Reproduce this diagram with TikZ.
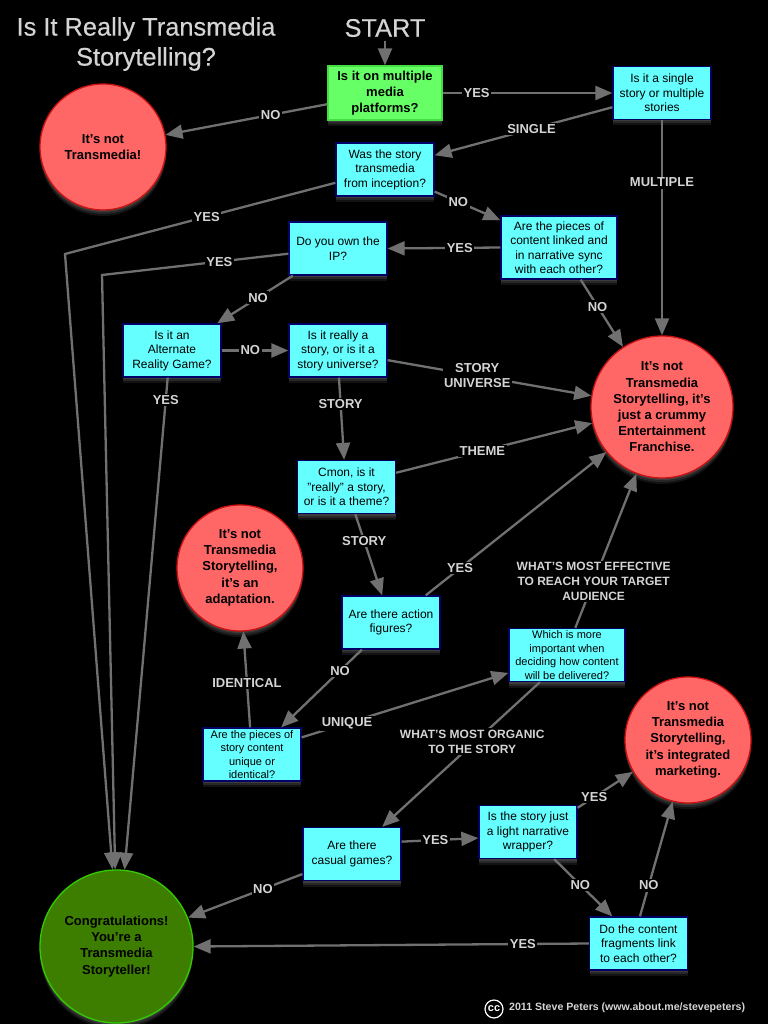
\documentclass[tikz,border=0pt]{standalone}
\usepackage{fontspec}
\setmainfont{Liberation Sans}
\newfontfamily\titlefont[FakeBold=0.4]{Liberation Sans}
\usetikzlibrary{arrows.meta,shadows}
\definecolor{qcyan}{HTML}{66FFFF}
\definecolor{qnavy}{HTML}{000066}
\definecolor{startgreen}{HTML}{66FF66}
\definecolor{startedge}{HTML}{44DD44}
\definecolor{stopred}{HTML}{FF6666}
\definecolor{stopedge}{HTML}{CC1111}
\definecolor{winfill}{HTML}{3D7D00}
\definecolor{winedge}{HTML}{33CC00}
\definecolor{flowgray}{HTML}{707070}
\definecolor{lblgray}{HTML}{D4D4D4}
\tikzset{
  glow/.style={
    drop shadow={fill=white,opacity=.07,shadow xshift=0pt,shadow yshift=-6pt},
    drop shadow={fill=white,opacity=.09,shadow xshift=0pt,shadow yshift=-4pt},
    drop shadow={fill=white,opacity=.10,shadow xshift=0pt,shadow yshift=-2pt}},
  question/.style={draw=qnavy,fill=qcyan,line width=1.3pt,glow,align=center,inner sep=0pt,
    minimum width=98pt,minimum height=53pt,font=\fontsize{12}{14.5}\selectfont},
  wide/.style={minimum width=116pt},
  tiny/.style={font=\fontsize{11}{13.4}\selectfont},
  stopnode/.style={circle,draw=stopedge,fill=stopred,line width=1.3pt,glow,align=center,inner sep=0pt,
    minimum size=126pt,font=\fontsize{13}{16.2}\selectfont\bfseries},
  lbl/.style={fill=black,text=lblgray,align=center,inner sep=1.5pt,font=\fontsize{13}{15}\selectfont\bfseries},
  smalllbl/.style={font=\fontsize{12}{15}\selectfont\bfseries},
  flow/.style={draw=flowgray,line width=2.3pt,-{Stealth[length=17pt,width=14pt,inset=0pt]}}
}
\begin{document}
\begin{tikzpicture}[x=1pt,y=-1pt]
  \fill[black] (0,0) rectangle (768,1024);

  % titles
  \begin{scope}[every node/.style={text=lblgray,align=center,font=\fontsize{25.4}{30}\selectfont\titlefont}]
    \node (title) at (146,44) {Is It Really Transmedia\\Storytelling?};
    \node (start) at (385,28) {START};
  \end{scope}

  % questions
  \node [question,draw=startedge,fill=startgreen,minimum width=114pt,minimum height=54pt,
    font=\fontsize{13}{16}\selectfont\bfseries] (media) at (385,93) {Is it on multiple\\media\\platforms?};
  \node [question] (single) at (662,93) {Is it a single\\story or multiple\\stories};
  \node [question] (inception) at (385,169.5) {Was the story\\transmedia\\from inception?};
  \node [question,wide,minimum height=63pt] (linked) at (559,247.5) {Are the pieces of\\content linked and\\in narrative sync\\with each other?};
  \node [question] (own) at (338,248.5) {Do you own the\\IP?};
  \node [question] (arg) at (172,350.5) {Is it an\\Alternate\\Reality Game?};
  \node [question] (really) at (338,350.5) {Is it really a\\story, or is it a\\story universe?};
  \node [question] (theme) at (346.5,487) {Cmon, is it\\"really" a story,\\or is it a theme?};
  \node [question] (figures) at (391,622.5) {Are there action\\figures?};
  \node [question,tiny] (unique) at (252,754.5) {Are the pieces of\\story content\\unique or\\identical?};
  \node [question,wide,tiny] (deliver) at (567,655) {Which is more\\important when\\deciding how content\\will be delivered?};
  \node [question] (casual) at (352,854) {Are there\\casual games?};
  \node [question] (wrapper) at (528,832) {Is the story just\\a light narrative\\wrapper?};
  \node [question] (fragments) at (638.5,943.5) {Do the content\\fragments link\\to each other?};

  % end points
  \node [stopnode] (nottrans) at (103,147) {It's not\\Transmedia!};
  \node [stopnode,minimum size=142pt] (crummy) at (662,407) {It's not\\Transmedia\\Storytelling, it's\\just a crummy\\Entertainment\\Franchise.};
  \node [stopnode,text depth=3pt] (adapt) at (240,568) {It's not\\Transmedia\\Storytelling,\\it's an\\adaptation.};
  \node [stopnode,text depth=3pt] (market) at (688,740) {It's not\\Transmedia\\Storytelling,\\it's integrated\\marketing.};
  \node [stopnode,draw=winedge,fill=winfill,minimum size=153pt] (win) at (116.5,946.5) {Congratulations!\\You're a\\Transmedia\\Storyteller!};

  \coordinate (bendA) at (65,254);
  \coordinate (bendB) at (102,275);

  % connectors
  \begin{scope}[every edge/.style={flow}, every node/.style={lbl}]
    \path (start) edge (media.north);
    \path (media.191) edge node[pos=.35] {NO} (nottrans.11);
    \path (media.east) edge node[pos=.2] {YES} (single.west);
    \path (single.196) edge node[pos=.455] {SINGLE} (inception.16);
    \path (single.south) edge node[pos=.29] {MULTIPLE} (crummy.north);
    \draw[flow] (inception.195) -- node[pos=.476] {YES} (bendA) -- (win.93);
    \path (inception.-24) edge node[pos=.36] {NO} (linked.155);
    \path (linked.west) edge node[pos=.36] {YES} (own.east);
    \path (linked.-56) edge node[pos=.4] {NO} (crummy.123);
    \draw[flow] (own.186) -- node[pos=.37] {YES} (bendB) -- (win.91);
    \path (own.211) edge node[pos=.46] {NO} (arg.31);
    \path (arg.east) edge node[pos=.43] {NO} (really.west);
    \path (arg.261) edge node[pos=.045] {YES} (win.84.5);
    \path (really.-11) edge node[pos=.44] {STORY\\UNIVERSE} (crummy.171);
    \path (really.-88) edge node[pos=.32] {STORY} (theme.95);
    \path (theme.16) edge node[pos=.44] {THEME} (crummy.193);
    \path (theme.-72) edge node[pos=.33] {STORY} (figures.108);
    \path (figures.38) edge node[pos=.19] {YES} (crummy.219);
    \path (figures.223) edge node[pos=.27] {NO} (unique.43);
    \path (unique.94) edge node[pos=.46] {IDENTICAL} (adapt.-87);
    \path (unique.19) edge node[pos=.22] {UNIQUE} (deliver.197);
    \path (deliver.73) edge node[pos=.3,smalllbl] {WHAT'S MOST EFFECTIVE\\TO REACH YOUR TARGET\\AUDIENCE} (crummy.249);
    \path (deliver.225) edge node[pos=.41,smalllbl,xshift=-3pt] {WHAT'S MOST ORGANIC\\TO THE STORY} (casual.42);
    \path (casual.14) edge node[pos=.44] {YES} (wrapper.187);
    \path (casual.202) edge node[pos=.345] {NO} (win.22);
    \path (wrapper.26) edge node[pos=.3] {YES} (market.210);
    \path (wrapper.-46) edge node[pos=.45] {NO} (fragments.134);
    \path (fragments.87) edge node[pos=.27] {NO} (market.256);
    \path (fragments.west) edge node[pos=.167] {YES} (win.east);
  \end{scope}

  % credit
  \node [circle,draw=white,line width=1.2pt,minimum size=18pt,inner sep=0pt,text=white,
    font=\fontsize{11}{11}\selectfont\bfseries] (cc) at (494,1009) {cc};
  \node [anchor=west,inner sep=0pt,text=lblgray,font=\fontsize{10.6}{12}\selectfont\bfseries] (credit) at (509,1008) {2011 Steve Peters (www.about.me/stevepeters)};
\end{tikzpicture}
\end{document}
